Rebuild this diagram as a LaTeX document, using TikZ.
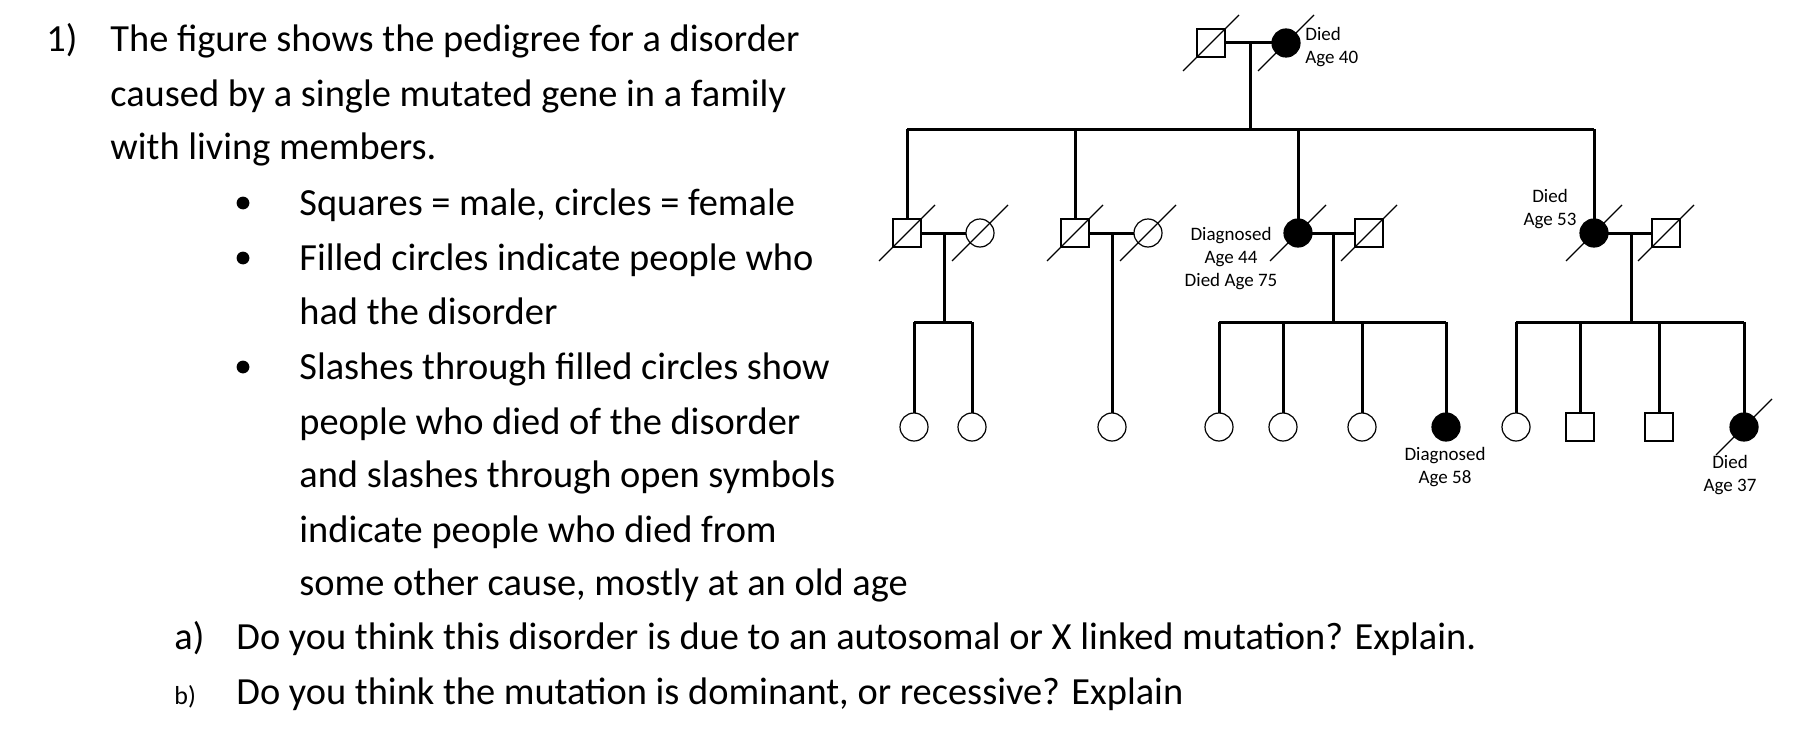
\documentclass[tikz,border=0pt]{standalone}
\usepackage{fontspec}
\setmainfont{Carlito}
\begin{document}
\begin{tikzpicture}[x=0.5pt,y=-0.5pt,
  sq/.style={draw,line width=0.6pt,rectangle,minimum size=14pt,inner sep=0pt,fill=white},
  ci/.style={draw,line width=0.6pt,circle,minimum size=14pt,inner sep=0pt,fill=white},
  aff/.style={ci,fill=black},
  ln/.style={line width=1.5pt},
  sl/.style={line width=0.6pt},
  lab/.style={font=\fontsize{9.5}{11.5}\selectfont,align=center,inner sep=0pt},
  txt/.style={anchor=base west,inner sep=0pt,font=\fontsize{19.2}{22}\selectfont}]
\useasboundingbox (0,0) rectangle (1808,738);
% ---------- text ----------
\node[txt] (n1) at (46,52) {1)};
\node[txt] (t1) at (110,52) {The figure shows the pedigree for a disorder};
\node[txt] (t2) at (110,106) {caused by a single mutated gene in a family};
\node[txt] (t3) at (110,159) {with living members.};
\foreach \y/\s [count=\i] in {215/{Squares = male, circles = female},270/{Filled circles indicate people who},324/{had the disorder},379/{Slashes through filled circles show},434/{people who died of the disorder},487/{and slashes through open symbols},542/{indicate people who died from},595/{some other cause, mostly at an old age}}
  \node[txt] (b\i) at (299,\y) {\s};
\foreach \y in {203,258,367} \fill (243,\y) circle (3.2pt);
\node[txt] (qa) at (174,649) {a)};
\node[txt] (qat) at (236,649) {Do you think this disorder is due to an autosomal or X linked mutation? Explain.};
\node[txt,font=\fontsize{13}{15}\selectfont] (qb) at (174,704) {b)};
\node[txt] (qbt) at (236,704) {Do you think the mutation is dominant, or recessive? Explain};
% ---------- pedigree ----------
\coordinate (s0) at (1250,129);
\draw[ln] (1211,43) -- (1286,43);
\draw[ln] (1250,43) -- (s0);
\draw[ln] (907,129) -- (1594,129);
\foreach \x in {907,1075,1298,1594} \draw[ln] (\x,129) -- (\x,233);
\draw[ln] (907,233) -- (980,233);  \draw[ln] (944,233) -- (944,322);
\draw[ln] (914,322) -- (972,322);
\foreach \x in {914,972} \draw[ln] (\x,322) -- (\x,427);
\draw[ln] (1075,233) -- (1148,233); \draw[ln] (1112,233) -- (1112,427);
\draw[ln] (1298,233) -- (1369,233); \draw[ln] (1333,233) -- (1333,322);
\draw[ln] (1219,322) -- (1446,322);
\foreach \x in {1219,1283,1362,1446} \draw[ln] (\x,322) -- (\x,427);
\draw[ln] (1594,233) -- (1666,233); \draw[ln] (1631,233) -- (1631,322);
\draw[ln] (1516,322) -- (1744,322);
\foreach \x in {1516,1580,1659,1744} \draw[ln] (\x,322) -- (\x,427);
\node[sq]  (I1) at (1211,43) {};
\node[aff] (I2) at (1286,43) {};
\node[sq]  (A1) at (907,233) {};
\node[ci]  (A2) at (980,233) {};
\node[sq]  (B1) at (1075,233) {};
\node[ci]  (B2) at (1148,233) {};
\node[aff] (C1) at (1298,233) {};
\node[sq]  (C2) at (1369,233) {};
\node[aff] (D1) at (1594,233) {};
\node[sq]  (D2) at (1666,233) {};
\node[ci] (a1) at (914,427) {};
\node[ci] (a2) at (972,427) {};
\node[ci] (b1) at (1112,427) {};
\node[ci] (c1) at (1219,427) {};
\node[ci] (c2) at (1283,427) {};
\node[ci] (c3) at (1362,427) {};
\node[aff] (c4) at (1446,427) {};
\node[ci] (d1) at (1516,427) {};
\node[sq] (d2) at (1580,427) {};
\node[sq] (d3) at (1659,427) {};
\node[aff] (d4) at (1744,427) {};
\foreach \n in {I1,I2,A1,A2,B1,B2,C1,C2,D1,D2,d4}
  \draw[sl] ([shift={(-28,28)}]\n.center) -- ([shift={(28,-28)}]\n.center);
\node[lab,anchor=west,align=left] (L1) at (1305,47) {Died\\Age 40};
\node[lab] (L2) at (1231,259) {Diagnosed\\Age 44\\Died Age 75};
\node[lab] (L3) at (1550,209) {Died\\Age 53};
\node[lab] (L4) at (1445,467) {Diagnosed\\Age 58};
\node[lab] (L5) at (1730,475) {Died\\Age 37};
\end{tikzpicture}
\end{document}
